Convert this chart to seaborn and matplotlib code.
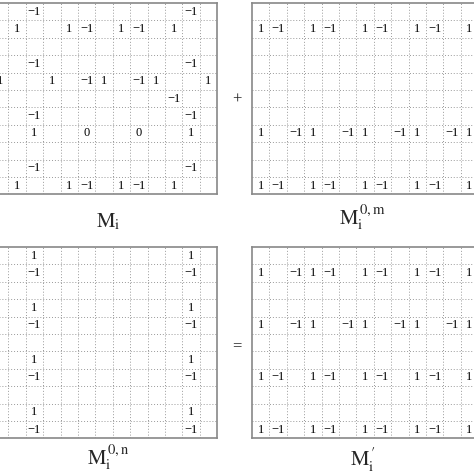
import numpy as np
import matplotlib
matplotlib.use("Agg")
import matplotlib.pyplot as plt
import seaborn as sns

sns.set_style("white")
plt.rcParams['font.family'] = ['Liberation Serif', 'DejaVu Serif']
plt.rcParams['mathtext.fontset'] = 'stix'

n_rows, n_cols = 11, 13

# entries: (row, col, value)
m_i = [(0, 2, -1), (0, 11, -1),
       (1, 1, 1), (1, 4, 1), (1, 5, -1), (1, 7, 1), (1, 8, -1), (1, 10, 1),
       (3, 2, -1), (3, 11, -1),
       (4, 0, 1), (4, 3, 1), (4, 5, -1), (4, 6, 1), (4, 8, -1), (4, 9, 1), (4, 12, 1),
       (5, 10, -1),
       (6, 2, -1), (6, 11, -1),
       (7, 2, 1), (7, 5, 0), (7, 8, 0), (7, 11, 1),
       (9, 2, -1), (9, 11, -1),
       (10, 1, 1), (10, 4, 1), (10, 5, -1), (10, 7, 1), (10, 8, -1), (10, 10, 1)]

pair_a = [(0, 1), (1, -1), (3, 1), (4, -1), (6, 1), (7, -1), (9, 1), (10, -1), (12, 1)]
pair_b = [(0, 1), (2, -1), (3, 1), (5, -1), (6, 1), (8, -1), (9, 1), (11, -1), (12, 1)]
pair_c = [(0, 1), (2, -1), (3, 1), (4, -1), (6, 1), (7, -1), (9, 1), (10, -1), (12, 1)]

m_0m = [(1, c, v) for c, v in pair_a] + [(7, c, v) for c, v in pair_b] + [(10, c, v) for c, v in pair_a]
m_0n = []
for r in [0, 3, 6, 9]:
    m_0n += [(r, 2, 1), (r, 11, 1), (r + 1, 2, -1), (r + 1, 11, -1)]
m_prime = [(1, c, v) for c, v in pair_c] + [(4, c, v) for c, v in pair_b] + \
          [(7, c, v) for c, v in pair_a] + [(10, c, v) for c, v in pair_a]


def to_grid(entries):
    vals = np.zeros((n_rows, n_cols))
    labels = np.full((n_rows, n_cols), "", dtype=object)
    for r, c, v in entries:
        labels[r, c] = "\u22121" if v < 0 else str(v)
    return vals, labels


W = 474.0
cell = 17.4


def panel(left_px, top_px, entries, title, title_x, title_y):
    fig = plt.gcf()
    ax = fig.add_axes([left_px / W, 1 - (top_px + n_rows * cell) / W,
                       n_cols * cell / W, n_rows * cell / W])
    vals, labels = to_grid(entries)
    sns.heatmap(vals, annot=labels, fmt="", cmap=["white"], cbar=False,
                annot_kws={"fontsize": 9, "color": "black"}, ax=ax,
                xticklabels=False, yticklabels=False)
    for k in range(1, n_cols):
        ax.axvline(k, color="#999999", ls=(0, (1, 2)), lw=0.7)
    for k in range(1, n_rows):
        ax.axhline(k, color="#999999", ls=(0, (1, 2)), lw=0.7)
    for s in ax.spines.values():
        s.set_visible(True)
        s.set_color("#888888")
        s.set_linewidth(1.2)
    fig.text(title_x / W, 1 - title_y / W, title, ha="center", va="center",
             fontsize=15)
    return ax


fig = plt.figure(figsize=(4.74, 4.74), dpi=100)
panel(-9, 3, m_i, r"$\mathrm{M}_{\mathrm{i}}$", 108, 222)
panel(252, 3, m_0m, r"$\mathrm{M}_{\mathrm{i}}^{\,0,\mathrm{m}}$", 363, 218)
panel(-9, 247, m_0n, r"$\mathrm{M}_{\mathrm{i}}^{\,0,\mathrm{n}}$", 108, 458)
panel(252, 247, m_prime, r"$\mathrm{M}_{\mathrm{i}}^{\,\prime}$", 363, 460)
fig.text(237 / W, 1 - 100 / W, "+", ha="center", va="center", fontsize=12)
fig.text(237 / W, 1 - 346 / W, "=", ha="center", va="center", fontsize=12)

fig.savefig("out.png", dpi=100)
